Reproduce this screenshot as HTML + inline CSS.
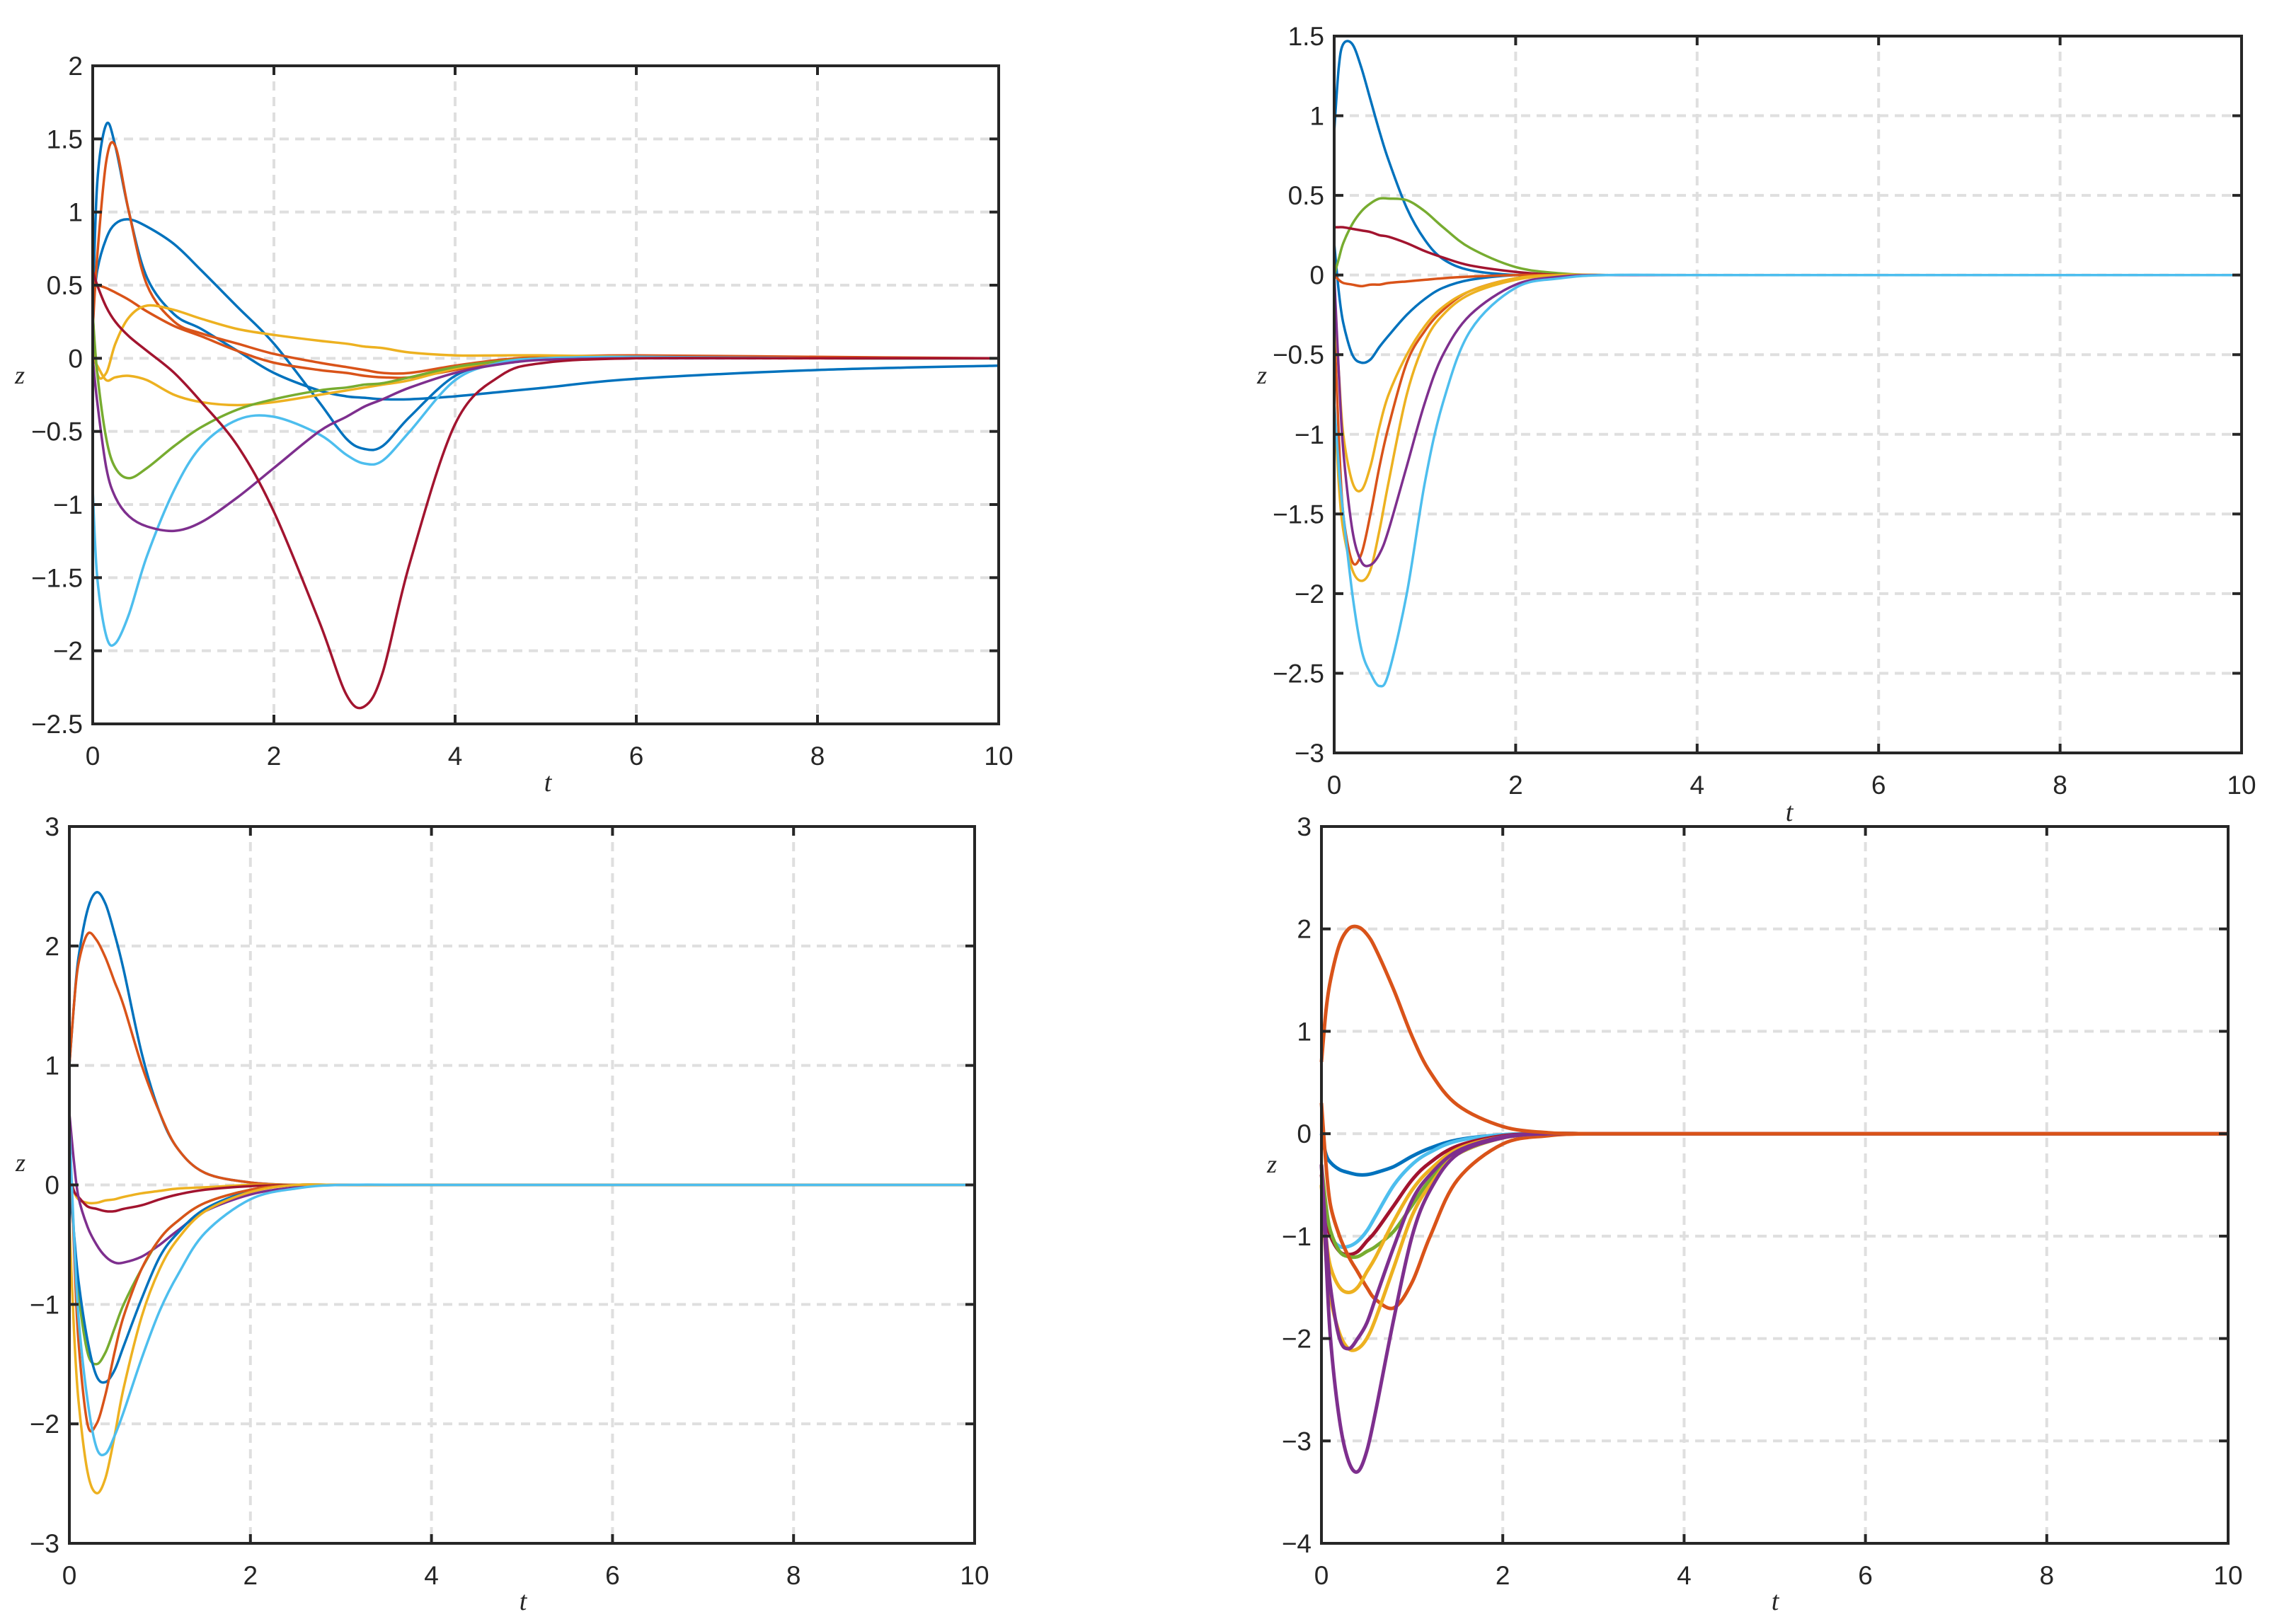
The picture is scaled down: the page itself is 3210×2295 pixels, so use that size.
<!DOCTYPE html>
<html><head><meta charset="utf-8"><style>
html,body{margin:0;padding:0;background:#fff}
svg{display:block}
text{font-family:"Liberation Sans",sans-serif;fill:#262626}
.lab{font-family:"Liberation Serif",serif;font-style:italic}
</style></head><body>
<svg id="fig" width="3210" height="2295" viewBox="0 0 3210 2295" xmlns="http://www.w3.org/2000/svg"></svg>
<script>
const colors=["#0072BD","#D95319","#EDB120","#7E2F8E","#77AC30","#4DBEEE","#A2142F"];
const tA=[0,0.05,0.15,0.25,0.4,0.6,0.9,1.2,1.6,2,2.5,2.8,3,3.2,3.5,4,4.5,5,6,8,10];
const tB=[0,0.05,0.1,0.2,0.3,0.4,0.5,0.6,0.8,1,1.2,1.5,2,2.5,3,4,6,10];
const xTicks=[0,2,4,6,8,10];
const yTicks1=[-2.5,-2,-1.5,-1,-0.5,0,0.5,1,1.5,2];
const yTicks2=[-3,-2.5,-2,-1.5,-1,-0.5,0,0.5,1,1.5];
const yTicks3=[-3,-2,-1,0,1,2,3];
const yTicks4=[-4,-3,-2,-1,0,1,2,3];
// plot 1 series
const p1Blue1=[0.3,1.2,1.6,1.45,1.0,0.55,0.3,0.2,0.05,-0.1,-0.22,-0.26,-0.27,-0.28,-0.28,-0.26,-0.23,-0.2,-0.14,-0.08,-0.05];
const p1Blue2=[0.3,0.6,0.82,0.92,0.95,0.9,0.78,0.6,0.35,0.1,-0.3,-0.55,-0.62,-0.6,-0.4,-0.12,-0.03,0,0.01,0,0];
const p1Orange1=[0.2,0.7,1.35,1.45,1.0,0.5,0.25,0.17,0.1,0.03,-0.03,-0.06,-0.08,-0.1,-0.1,-0.05,-0.01,0.01,0.02,0.01,0];
const p1Orange2=[0.5,0.5,0.48,0.45,0.4,0.32,0.22,0.15,0.05,-0.03,-0.08,-0.1,-0.12,-0.13,-0.13,-0.08,-0.02,0,0.01,0,0];
const p1Yellow1=[0.3,-0.1,-0.1,0.1,0.28,0.36,0.33,0.27,0.2,0.16,0.12,0.1,0.08,0.07,0.04,0.02,0.02,0.02,0.01,0,0];
const p1Yellow2=[0,-0.05,-0.15,-0.13,-0.12,-0.15,-0.25,-0.3,-0.32,-0.3,-0.25,-0.22,-0.2,-0.18,-0.15,-0.07,-0.02,0,0,0,0];
const p1Green=[0.3,-0.1,-0.55,-0.75,-0.82,-0.75,-0.6,-0.47,-0.35,-0.28,-0.22,-0.2,-0.18,-0.17,-0.13,-0.06,-0.02,0,0,0,0];
const p1Light=[-0.9,-1.5,-1.9,-1.95,-1.75,-1.35,-0.9,-0.6,-0.42,-0.4,-0.52,-0.66,-0.72,-0.7,-0.5,-0.15,-0.03,0,0.01,0,0];
const p1Purple=[0,-0.3,-0.75,-0.95,-1.08,-1.15,-1.18,-1.12,-0.95,-0.75,-0.5,-0.4,-0.33,-0.28,-0.2,-0.1,-0.04,-0.01,0,0,0];
const p1Red=[0.6,0.5,0.35,0.25,0.15,0.05,-0.1,-0.3,-0.6,-1.05,-1.8,-2.3,-2.38,-2.15,-1.4,-0.45,-0.12,-0.03,0,0,0];
// plot 2 series
const p2Blue1=[0.9,1.3,1.45,1.45,1.3,1.1,0.9,0.72,0.42,0.22,0.1,0.03,0,0,0,0,0,0];
const p2Blue2=[0.2,-0.1,-0.3,-0.5,-0.55,-0.53,-0.45,-0.38,-0.25,-0.15,-0.08,-0.03,0,0,0,0,0,0];
const p2Green=[0,0.1,0.2,0.32,0.4,0.45,0.48,0.48,0.47,0.4,0.3,0.17,0.05,0.01,0,0,0,0];
const p2Red=[0.3,0.3,0.3,0.29,0.28,0.27,0.25,0.24,0.2,0.15,0.11,0.06,0.02,0,0,0,0,0];
const p2Orange1=[0,-0.03,-0.05,-0.06,-0.07,-0.06,-0.06,-0.05,-0.04,-0.03,-0.02,-0.01,0,0,0,0,0,0];
const p2Orange2=[-0.3,-1.0,-1.5,-1.8,-1.75,-1.5,-1.2,-0.95,-0.55,-0.35,-0.22,-0.1,-0.02,0,0,0,0,0];
const p2Yellow1=[-0.2,-0.6,-1.0,-1.3,-1.35,-1.2,-0.95,-0.75,-0.5,-0.32,-0.2,-0.1,-0.02,0,0,0,0,0];
const p2Yellow2=[-0.8,-1.3,-1.6,-1.85,-1.92,-1.85,-1.6,-1.3,-0.75,-0.42,-0.25,-0.12,-0.03,0,0,0,0,0];
const p2Purple=[0,-0.6,-1.1,-1.6,-1.8,-1.82,-1.75,-1.6,-1.2,-0.8,-0.5,-0.25,-0.06,-0.01,0,0,0,0];
const p2Light=[-0.8,-1.2,-1.5,-2.0,-2.35,-2.5,-2.58,-2.5,-2.0,-1.3,-0.8,-0.35,-0.08,-0.02,0,0,0,0];
// plot 3 series
const p3Blue1=[1,1.5,1.9,2.3,2.45,2.35,2.1,1.8,1.1,0.6,0.3,0.1,0.02,0,0,0,0,0];
const p3Orange1=[1,1.5,1.85,2.1,2.05,1.9,1.7,1.5,1.0,0.6,0.3,0.1,0.02,0,0,0,0,0];
const p3Yellow1=[0.1,-0.05,-0.12,-0.15,-0.15,-0.13,-0.12,-0.1,-0.07,-0.05,-0.03,-0.02,0,0,0,0,0,0];
const p3Red=[0.1,-0.05,-0.1,-0.18,-0.2,-0.22,-0.22,-0.2,-0.17,-0.12,-0.08,-0.04,-0.01,0,0,0,0,0];
const p3Purple=[0.6,0.2,-0.1,-0.35,-0.5,-0.6,-0.65,-0.65,-0.6,-0.5,-0.38,-0.22,-0.08,-0.02,0,0,0,0];
const p3Green=[0.3,-0.4,-0.9,-1.4,-1.5,-1.4,-1.2,-1.0,-0.7,-0.45,-0.3,-0.15,-0.04,0,0,0,0,0];
const p3Blue2=[0,-0.4,-0.8,-1.3,-1.6,-1.65,-1.55,-1.35,-0.95,-0.6,-0.4,-0.2,-0.05,0,0,0,0,0];
const p3Orange2=[0.5,-0.5,-1.3,-2.0,-2.0,-1.75,-1.4,-1.1,-0.7,-0.45,-0.3,-0.15,-0.04,0,0,0,0,0];
const p3Yellow2=[-0.3,-1.2,-1.8,-2.4,-2.58,-2.45,-2.1,-1.7,-1.1,-0.7,-0.45,-0.22,-0.06,0,0,0,0,0];
const p3Light=[0.5,-0.4,-1.1,-1.8,-2.2,-2.25,-2.1,-1.9,-1.45,-1.05,-0.75,-0.4,-0.12,-0.03,0,0,0,0];
// plot 4 series
const p4Orange1=[0.7,1.2,1.5,1.85,2.0,2.02,1.95,1.8,1.4,0.95,0.6,0.28,0.07,0.01,0,0,0,0];
const p4Blue1=[0,-0.2,-0.28,-0.35,-0.38,-0.4,-0.4,-0.38,-0.32,-0.22,-0.14,-0.06,-0.01,0,0,0,0,0];
const p4Light=[-0.5,-0.8,-1.0,-1.1,-1.1,-1.05,-0.95,-0.8,-0.5,-0.3,-0.18,-0.07,-0.01,0,0,0,0,0];
const p4Red=[-0.4,-0.8,-1.0,-1.15,-1.18,-1.15,-1.05,-0.95,-0.7,-0.45,-0.28,-0.12,-0.02,0,0,0,0,0];
const p4Green=[-0.3,-0.7,-0.95,-1.15,-1.2,-1.2,-1.15,-1.1,-0.95,-0.7,-0.45,-0.2,-0.04,0,0,0,0,0];
const p4Orange2=[0.3,-0.3,-0.7,-1.0,-1.2,-1.35,-1.5,-1.62,-1.7,-1.45,-1.0,-0.45,-0.1,-0.02,0,0,0,0];
const p4Yellow1=[-0.5,-1.0,-1.3,-1.5,-1.55,-1.5,-1.35,-1.2,-0.85,-0.55,-0.35,-0.15,-0.03,0,0,0,0,0];
const p4Yellow2=[-0.5,-1.2,-1.6,-1.95,-2.1,-2.1,-2.0,-1.8,-1.3,-0.8,-0.5,-0.2,-0.04,0,0,0,0,0];
const p4Purple1=[-0.3,-1.0,-1.5,-2.0,-2.1,-2.0,-1.85,-1.6,-1.1,-0.65,-0.4,-0.17,-0.03,0,0,0,0,0];
const p4Purple2=[-0.3,-1.2,-2.0,-2.8,-3.2,-3.3,-3.1,-2.7,-1.8,-1.0,-0.55,-0.2,-0.04,0,0,0,0,0];

const NS="http://www.w3.org/2000/svg";
const svg=document.getElementById('fig');
function mk(tag,attrs,parent){const e=document.createElementNS(NS,tag);for(const k in attrs)e.setAttribute(k,attrs[k]);(parent||svg).appendChild(e);return e;}
function fmt(v){return (v<0?"\u2212":"")+String(Math.abs(v));}
function pathFrom(pts){let d="M"+pts[0][0].toFixed(1)+","+pts[0][1].toFixed(1);
 for(let i=0;i<pts.length-1;i++){const p0=pts[Math.max(0,i-1)],p1=pts[i],p2=pts[i+1],p3=pts[Math.min(pts.length-1,i+2)];
  const c1=[p1[0]+(p2[0]-p0[0])/6,p1[1]+(p2[1]-p0[1])/6],c2=[p2[0]-(p3[0]-p1[0])/6,p2[1]-(p3[1]-p1[1])/6];
  d+="C"+c1[0].toFixed(1)+","+c1[1].toFixed(1)+" "+c2[0].toFixed(1)+","+c2[1].toFixed(1)+" "+p2[0].toFixed(1)+","+p2[1].toFixed(1);}
 return d;}
function plot(cfg){
 const g=mk('g',{});
 
 
 const {L,T,R,B,ymin,ymax,yt,t,series,lw}=cfg;
 const xs=v=>L+(v/10)*(R-L), ys=v=>B-(v-ymin)/(ymax-ymin)*(B-T);
 mk('rect',{x:L,y:T,width:R-L,height:B-T,fill:'#fff'},g);
 xTicks.forEach(v=>{if(v>0&&v<10){const l=mk('line',{x1:xs(v),x2:xs(v),y1:T,y2:B,stroke:'#dfdfdf','stroke-width':4,'stroke-dasharray':'13 9'},g);}});
 yt.forEach(v=>{if(v>ymin&&v<ymax){const l=mk('line',{x1:L,x2:R,y1:ys(v),y2:ys(v),stroke:'#dfdfdf','stroke-width':4,'stroke-dasharray':'13 9'},g);}});
 series.forEach((s,i)=>{const pts=t.map((tv,j)=>[xs(tv),ys(s.v[j])]);
  const p=mk('path',{d:pathFrom(pts),fill:'none',stroke:s.c,'stroke-width':lw,'stroke-linejoin':'round'},g);
  });
 xTicks.forEach(v=>{mk('line',{x1:xs(v),x2:xs(v),y1:B,y2:B-13,stroke:'#262626','stroke-width':4},g);mk('line',{x1:xs(v),x2:xs(v),y1:T,y2:T+13,stroke:'#262626','stroke-width':4},g);
  const tx=mk('text',{x:xs(v),y:B+58,'font-size':37,'text-anchor':'middle'},g);tx.textContent=fmt(v);});
 yt.forEach(v=>{mk('line',{x1:L,x2:L+13,y1:ys(v),y2:ys(v),stroke:'#262626','stroke-width':4},g);mk('line',{x1:R,x2:R-13,y1:ys(v),y2:ys(v),stroke:'#262626','stroke-width':4},g);
  const tx=mk('text',{x:L-14,y:ys(v)+13,'font-size':37,'text-anchor':'end'},g);tx.textContent=fmt(v);});
 const fr=mk('rect',{x:L,y:T,width:R-L,height:B-T,fill:'none',stroke:'#262626','stroke-width':4},g);
 
 const zl=mk('text',{x:cfg.zx,y:cfg.zy,'font-size':36,'class':'lab','text-anchor':'middle'},g);zl.textContent='z';
 
 const tl=mk('text',{x:cfg.tx,y:cfg.ty,'font-size':38,'class':'lab','text-anchor':'middle'},g);tl.textContent='t';
 
}
const C=colors;
plot({name:'plot-top-left',L:131,T:93,R:1411,B:1023,ymin:-2.5,ymax:2,yt:yTicks1,t:tA,lw:3.5,zx:28,zy:542,tx:774,ty:1118,
 series:[{v:p1Blue1,c:C[0]},{v:p1Blue2,c:C[0]},{v:p1Orange1,c:C[1]},{v:p1Orange2,c:C[1]},{v:p1Yellow1,c:C[2]},{v:p1Yellow2,c:C[2]},{v:p1Green,c:C[4]},{v:p1Light,c:C[5]},{v:p1Purple,c:C[3]},{v:p1Red,c:C[6]}]});
plot({name:'plot-top-right',L:1885,T:51,R:3167,B:1064,ymin:-3,ymax:1.5,yt:yTicks2,t:tB,lw:3.5,zx:1783,zy:542,tx:2528,ty:1160,
 series:[{v:p2Blue1,c:C[0]},{v:p2Blue2,c:C[0]},{v:p2Green,c:C[4]},{v:p2Red,c:C[6]},{v:p2Orange1,c:C[1]},{v:p2Orange2,c:C[1]},{v:p2Yellow1,c:C[2]},{v:p2Yellow2,c:C[2]},{v:p2Purple,c:C[3]},{v:p2Light,c:C[5]}]});
plot({name:'plot-bottom-left',L:98,T:1168,R:1377,B:2181,ymin:-3,ymax:3,yt:yTicks3,t:tB,lw:3.5,zx:29,zy:1655,tx:739,ty:2275,
 series:[{v:p3Blue1,c:C[0]},{v:p3Orange1,c:C[1]},{v:p3Yellow1,c:C[2]},{v:p3Red,c:C[6]},{v:p3Purple,c:C[3]},{v:p3Green,c:C[4]},{v:p3Blue2,c:C[0]},{v:p3Orange2,c:C[1]},{v:p3Yellow2,c:C[2]},{v:p3Light,c:C[5]}]});
plot({name:'plot-bottom-right',L:1867,T:1168,R:3148,B:2181,ymin:-4,ymax:3,yt:yTicks4,t:tB,lw:5,zx:1797,zy:1657,tx:2508,ty:2275,
 series:[{v:p4Blue1,c:C[0]},{v:p4Light,c:C[5]},{v:p4Red,c:C[6]},{v:p4Green,c:C[4]},{v:p4Orange2,c:C[1]},{v:p4Yellow1,c:C[2]},{v:p4Yellow2,c:C[2]},{v:p4Purple1,c:C[3]},{v:p4Purple2,c:C[3]},{v:p4Orange1,c:C[1]}]});
</script>
</body></html>
